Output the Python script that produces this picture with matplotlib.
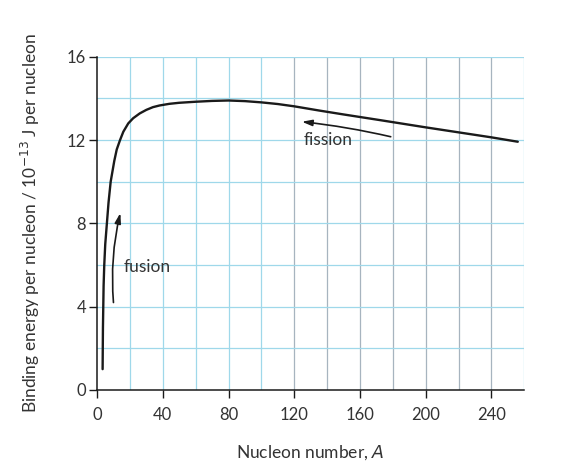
import matplotlib
matplotlib.use("Agg")
import matplotlib.pyplot as plt

plt.rcParams['font.family'] = ['Lato', 'DejaVu Sans']

# binding energy curve
nucleon_A = [3.4, 3.6, 4.0, 4.4, 5.0, 6.0, 7.0, 8.3, 10.5, 12.0, 14.0, 16.0,
             19.0, 22.0, 26.0, 30.0, 34.0, 38.0, 44.0, 50.0, 60.0, 70.0,
             80.0, 90.0, 100.0, 110.0, 120.0, 135.0, 150.0, 172.0, 200.0,
             220.0, 240.0, 256.0]
binding_E = [1.0, 3.0, 5.0, 6.0, 7.0, 8.0, 9.0, 10.0, 11.0, 11.55, 12.0, 12.4,
             12.8, 13.05, 13.28, 13.45, 13.58, 13.66, 13.74, 13.79, 13.84,
             13.88, 13.9, 13.87, 13.81, 13.73, 13.62, 13.42, 13.23, 12.96,
             12.61, 12.37, 12.13, 11.92]

x_ticks = [0, 40, 80, 120, 160, 200, 240]
y_ticks = [0, 4, 8, 12, 16]

text_col = '#333333'
blue = '#9fd8ea'
grey = '#a7b4bf'

fig = plt.figure(figsize=(5.81, 4.73), dpi=100)
ax = fig.add_axes([0.167, 0.1755, 0.7355, 0.7045])
ax.set_xlim(0, 260)
ax.set_ylim(0, 16)

# grid paper
for gx in range(20, 261, 20):
    ax.axvline(gx, color=grey if 120 <= gx < 260 else blue, lw=0.9, zorder=1)
for gy in range(2, 17, 2):
    ax.axhline(gy, color=blue, lw=0.9, zorder=1)

ax.plot(nucleon_A, binding_E, color='#1a1a1a', lw=1.7, zorder=3,
        solid_capstyle='round', solid_joinstyle='round')

# arrows
ax.annotate('', xy=(14.2, 8.5), xytext=(10, 4.2),
            arrowprops=dict(arrowstyle='-|>,head_length=0.6,head_width=0.18',
                            color='#1a1a1a', lw=1.2,
                            connectionstyle='arc3,rad=-0.08',
                            shrinkA=0, shrinkB=0), zorder=4)
ax.text(16.0, 5.9, 'fusion', fontsize=12.5, color=text_col, va='center',
        ha='left', zorder=4)
ax.annotate('', xy=(124.6, 12.88), xytext=(178.7, 12.16),
            arrowprops=dict(arrowstyle='-|>,head_length=0.6,head_width=0.18',
                            color='#1a1a1a', lw=1.2,
                            connectionstyle='arc3,rad=0.03',
                            shrinkA=0, shrinkB=0), zorder=4)
ax.text(126.0, 11.98, 'fission', fontsize=12.5, color=text_col, va='center',
        ha='left', zorder=4)

for s in ['top', 'right']:
    ax.spines[s].set_visible(False)
for s in ['left', 'bottom']:
    ax.spines[s].set_color('#1a1a1a')
    ax.spines[s].set_linewidth(1.1)
    ax.spines[s].set_zorder(5)

ax.set_xticks(x_ticks)
ax.set_yticks(y_ticks)
ax.tick_params(direction='out', length=6, width=1, colors='#1a1a1a',
               labelcolor=text_col, labelsize=12)
ax.tick_params(axis='x', pad=6)
ax.tick_params(axis='y', pad=2)

ax.set_xlabel('Nucleon number, $\\mathit{A}$', fontsize=12.5, color=text_col,
              labelpad=15)
ax.set_ylabel('Binding energy per nucleon / 10$^{-13}$ J per nucleon',
              fontsize=12.5, color=text_col, labelpad=18)

fig.savefig('out.png', dpi=100)
